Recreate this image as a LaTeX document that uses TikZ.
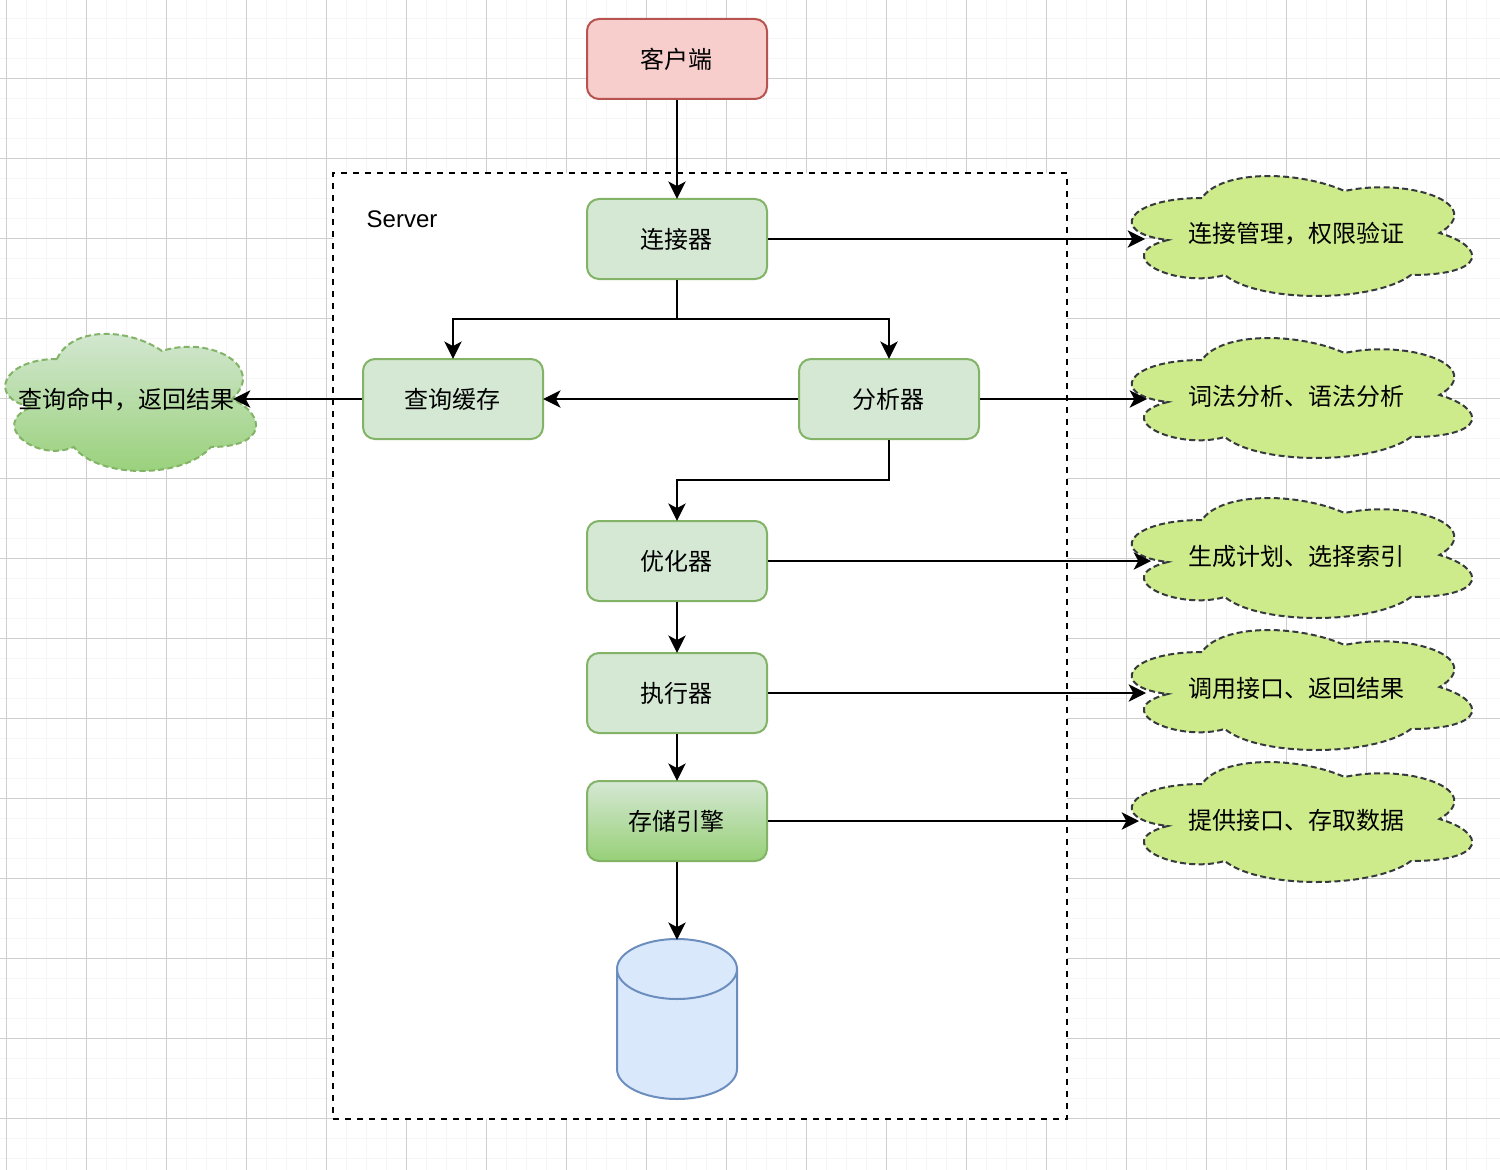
\documentclass[tikz,border=0pt]{standalone}
\usepackage{fontspec}
\setmainfont{Liberation Sans}
\newfontfamily\cjk{Noto Sans CJK SC}
\usetikzlibrary{arrows.meta}
\definecolor{gridminor}{HTML}{F6F6F6}
\definecolor{gridmajor}{HTML}{CFCFCF}
\definecolor{gfill}{HTML}{D5E8D4}
\definecolor{gline}{HTML}{82B366}
\definecolor{gdark}{HTML}{97D077}
\definecolor{rfill}{HTML}{F8CECC}
\definecolor{rline}{HTML}{B85450}
\definecolor{bfill}{HTML}{DAE8FC}
\definecolor{bline}{HTML}{6C8EBF}
\definecolor{cfill}{HTML}{CDEB8B}
\definecolor{cline}{HTML}{36393D}
\newcommand{\cloudpath}[5]{%
 \draw[#5] (#1+0.25*#3,#2+0.25*#4)
 .. controls (#1+0.05*#3,#2+0.25*#4) and (#1,#2+0.5*#4) .. (#1+0.16*#3,#2+0.55*#4)
 .. controls (#1,#2+0.66*#4) and (#1+0.18*#3,#2+0.9*#4) .. (#1+0.31*#3,#2+0.8*#4)
 .. controls (#1+0.4*#3,#2+#4) and (#1+0.7*#3,#2+#4) .. (#1+0.8*#3,#2+0.8*#4)
 .. controls (#1+#3,#2+0.8*#4) and (#1+#3,#2+0.6*#4) .. (#1+0.875*#3,#2+0.5*#4)
 .. controls (#1+#3,#2+0.3*#4) and (#1+0.8*#3,#2+0.1*#4) .. (#1+0.625*#3,#2+0.2*#4)
 .. controls (#1+0.5*#3,#2+0.05*#4) and (#1+0.3*#3,#2+0.05*#4) .. (#1+0.25*#3,#2+0.25*#4) -- cycle;}
\tikzset{
 x=0.75pt,y=-0.75pt,
 flow/.style={draw=black,line width=1.5pt,shorten >=-0.6pt,-{Stealth[length=13pt,width=13pt,inset=3.5pt]}},
 plain/.style={rectangle,rounded corners=9pt,minimum width=135pt,minimum height=60pt,line width=1.5pt,inner sep=0pt,font=\cjk\fontsize{18}{22}\selectfont},
 greenbox/.style={plain,draw=gline,fill=gfill},
 redbox/.style={plain,draw=rline,fill=rfill},
 engine/.style={plain,draw=gline,top color=gfill,bottom color=gdark},
 cloudlabel/.style={inner sep=0pt,font=\cjk\fontsize{18}{22}\selectfont},
 cloudlime/.style={draw=cline,fill=cfill,line width=1.5pt,dash pattern=on 4.5pt off 2.5pt},
 cloudgreen/.style={draw=gline,top color=gfill,bottom color=gdark,line width=1.5pt,dash pattern=on 4.5pt off 2.5pt},
}
\begin{document}
\begin{tikzpicture}
\useasboundingbox (0,0) rectangle (1500,1170);
\fill[white] (0,0) rectangle (1500,1170);
% grid
\foreach \v in {26.5,46.5,66.5,106.5,126.5,146.5,186.5,206.5,226.5,266.5,286.5,306.5,346.5,366.5,386.5,426.5,446.5,466.5,506.5,526.5,546.5,586.5,606.5,626.5,666.5,686.5,706.5,746.5,766.5,786.5,826.5,846.5,866.5,906.5,926.5,946.5,986.5,1006.5,1026.5,1066.5,1086.5,1106.5,1146.5,1166.5,1186.5,1226.5,1246.5,1266.5,1306.5,1326.5,1346.5,1386.5,1406.5,1426.5,1466.5,1486.5}
 \draw[gridminor,line width=1.3pt] (\v,0) -- (\v,1170);
\foreach \v in {18.5,38.5,58.5,98.5,118.5,138.5,178.5,198.5,218.5,258.5,278.5,298.5,338.5,358.5,378.5,418.5,438.5,458.5,498.5,518.5,538.5,578.5,598.5,618.5,658.5,678.5,698.5,738.5,758.5,778.5,818.5,838.5,858.5,898.5,918.5,938.5,978.5,998.5,1018.5,1058.5,1078.5,1098.5,1138.5,1158.5}
 \draw[gridminor,line width=1.3pt] (0,\v) -- (1500,\v);
\foreach \v in {6.5,86.5,166.5,246.5,326.5,406.5,486.5,566.5,646.5,726.5,806.5,886.5,966.5,1046.5,1126.5,1206.5,1286.5,1366.5,1446.5}
 \draw[gridmajor,line width=0.9pt] (\v,0) -- (\v,1170);
\foreach \v in {78.5,158.5,238.5,318.5,398.5,478.5,558.5,638.5,718.5,798.5,878.5,958.5,1038.5,1118.5}
 \draw[gridmajor,line width=0.9pt] (0,\v) -- (1500,\v);
% server frame
\node[draw=black,fill=white,line width=1.5pt,dash pattern=on 4.5pt off 4.5pt,rectangle,inner sep=0pt,minimum width=550.5pt,minimum height=709.5pt] (server) at (700,646) {};
\node[font=\fontsize{18}{22}\selectfont,inner sep=0pt] (serverlabel) at (402,219.5) {Server};
% clouds
\cloudpath{-13}{319}{280}{160}{cloudgreen}
\cloudpath{1107}{163}{380}{140}{cloudlime}
\cloudpath{1107}{325}{380}{140}{cloudlime}
\cloudpath{1107}{485}{380}{140}{cloudlime}
\cloudpath{1107}{617}{380}{140}{cloudlime}
\cloudpath{1107}{749}{380}{140}{cloudlime}
\node[cloudlabel] (hit) at (126,400) {查询命中，返回结果};
\node[cloudlabel] (c1) at (1296,234) {连接管理，权限验证};
\node[cloudlabel] (c2) at (1296,396) {词法分析、语法分析};
\node[cloudlabel] (c3) at (1296,556.5) {生成计划、选择索引};
\node[cloudlabel] (c4) at (1296,688.5) {调用接口、返回结果};
\node[cloudlabel] (c5) at (1296,820.5) {提供接口、存取数据};
\coordinate (hitend) at (233.8,399);
\coordinate (e1) at (1144.2,239);
\coordinate (e2) at (1146.2,399);
\coordinate (e3) at (1150.2,561);
\coordinate (e4) at (1145.2,693);
\coordinate (e5) at (1138.2,821);
% boxes
\node[redbox] (client) at (677,59) {\hspace*{-1.5pt}客户端};
\node[greenbox] (conn) at (677,239) {\hspace*{-1.5pt}连接器};
\node[greenbox] (cache) at (453,399) {\hspace*{-1.5pt}查询缓存};
\node[greenbox] (parser) at (889,399) {\hspace*{-1.5pt}分析器};
\node[greenbox] (opt) at (677,561) {\hspace*{-1.5pt}优化器};
\node[greenbox] (exec) at (677,693) {\hspace*{-1.5pt}执行器};
\node[engine] (store) at (677,821) {\hspace*{-1.5pt}存储引擎};
% cylinder
\node[rectangle,inner sep=0pt,outer sep=0pt,minimum width=90pt,minimum height=120pt] (db) at (677,1019) {};
\draw[draw=bline,fill=bfill,line width=1.5pt] (617,969)
 .. controls (617,952.4) and (643.9,939) .. (677,939)
 .. controls (710.1,939) and (737,952.4) .. (737,969)
 -- (737,1069)
 .. controls (737,1085.6) and (710.1,1099) .. (677,1099)
 .. controls (643.9,1099) and (617,1085.6) .. (617,1069) -- cycle;
\draw[draw=bline,line width=1.5pt] (617,969)
 .. controls (617,985.6) and (643.9,999) .. (677,999)
 .. controls (710.1,999) and (737,985.6) .. (737,969);
% connectors
\draw[flow] (client) -- (conn);
\draw[flow] (conn.south) -- ++(0,39) -| (cache.north);
\draw[flow] (conn.south) -- ++(0,39) -| (parser.north);
\draw[flow] (parser) -- (cache);
\draw[flow] (cache) -- (hitend);
\draw[flow] (parser.south) -- ++(0,39.8) -| (opt.north);
\draw[flow] (opt) -- (exec);
\draw[flow] (exec) -- (store);
\draw[flow] (store) -- (db.north);
\draw[flow] (conn) -- (e1);
\draw[flow] (parser) -- (e2);
\draw[flow] (opt) -- (e3);
\draw[flow] (exec) -- (e4);
\draw[flow] (store) -- (e5);
\end{tikzpicture}
\end{document}
